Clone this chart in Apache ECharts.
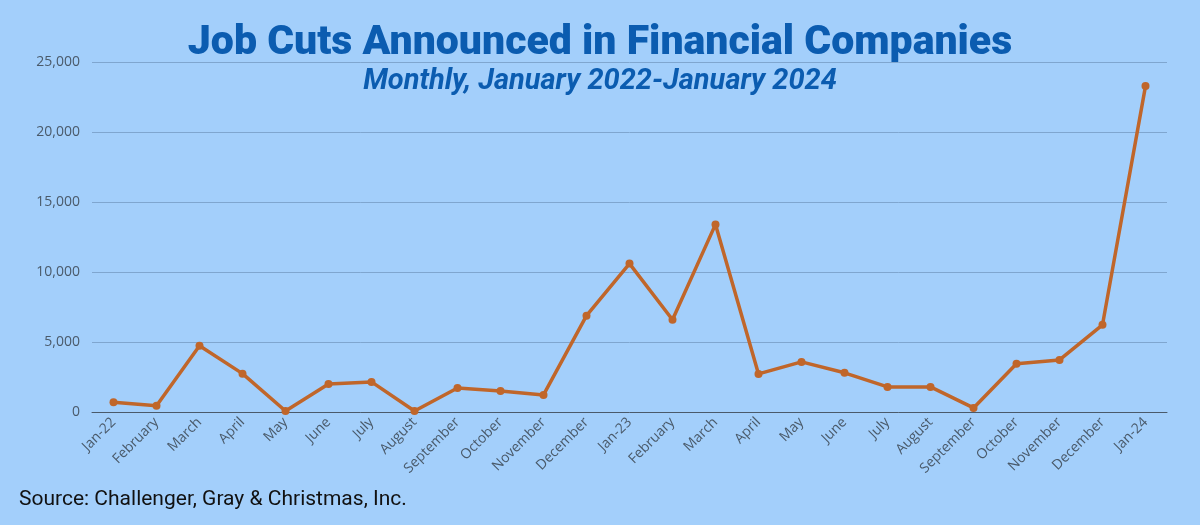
<!DOCTYPE html>
<html>
<head>
<meta charset="utf-8">
<script src="https://cdn.jsdelivr.net/npm/echarts@6/dist/echarts.min.js"></script>
<style>
  html, body { margin: 0; padding: 0; background: #a3cffb; }
  #chart { width: 1200px; height: 525px; }
</style>
</head>
<body>
<div id="chart"></div>
<script>
var months = ['Jan-22', 'February', 'March', 'April', 'May', 'June', 'July', 'August',
    'September', 'October', 'November', 'December', 'Jan-23', 'February', 'March', 'April',
    'May', 'June', 'July', 'August', 'September', 'October', 'November', 'December', 'Jan-24'];
var jobCuts = [700, 450, 4730, 2740, 70, 2000, 2150, 70, 1720, 1500, 1220, 6880, 10600,
    6590, 13400, 2720, 3580, 2800, 1790, 1790, 290, 3440, 3720, 6230, 23280];

var chart = echarts.init(document.getElementById('chart'));
var option = {
    backgroundColor: '#a3cffb',
    title: [{
        text: 'Job Cuts Announced in Financial Companies',
        left: 'center', top: 18,
        textStyle: { fontFamily: 'Roboto', fontWeight: 900, fontSize: 41, color: '#0b5cb0' }
    }, {
        text: 'Monthly, January 2022-January 2024',
        left: 'center', top: 62,
        textStyle: { fontFamily: 'Roboto', fontWeight: 'bold', fontStyle: 'italic', fontSize: 29, color: '#0b5cb0' }
    }, {
        text: 'Source: Challenger, Gray & Christmas, Inc.',
        left: 14, top: 484,
        textStyle: { fontFamily: 'Roboto', fontWeight: 'normal', fontSize: 21, color: '#111' }
    }],
    grid: { left: 92, right: 33, top: 62, bottom: 113 },
    xAxis: {
        type: 'category',
        data: months,
        axisLine: { lineStyle: { color: '#4a5a6a' } },
        axisTick: { show: false },
        axisLabel: { rotate: 45, color: '#4a5a6a', fontFamily: 'Open Sans', fontSize: 14, interval: 0, margin: 8 }
    },
    yAxis: {
        type: 'value',
        min: 0, max: 25000, interval: 5000,
        axisLine: { show: false },
        axisTick: { show: false },
        splitLine: { lineStyle: { color: '#7fa6cf' } },
        axisLabel: {
            color: '#4a5a6a', fontFamily: 'Open Sans', fontSize: 14, margin: 12,
            formatter: function (v) { return v.toLocaleString('en-US'); }
        }
    },
    series: [{
        type: 'line',
        data: jobCuts,
        symbol: 'circle',
        symbolSize: 8,
        lineStyle: { color: '#c0662a', width: 3.5 },
        itemStyle: { color: '#c0662a' }
    }]
};
chart.setOption(option);
</script>
</body>
</html>
